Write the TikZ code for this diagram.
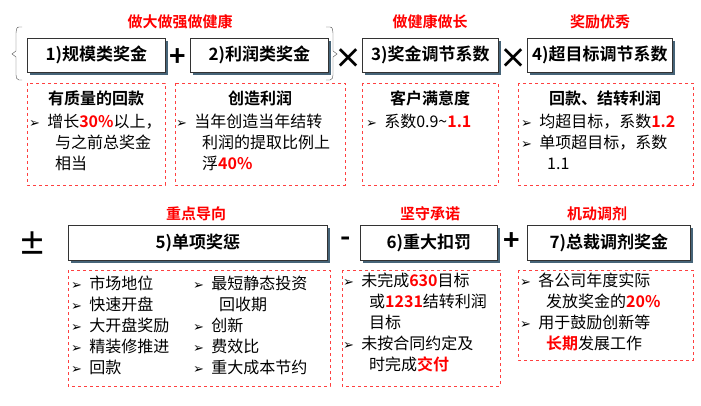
\documentclass[tikz,border=0pt]{standalone}
\usepackage{fontspec}
\setmainfont{Noto Sans CJK SC}
\newfontfamily\cjkb{Noto Sans CJK SC Bold}
\newfontfamily\djvfont{DejaVu Sans}
\definecolor{myred}{RGB}{255,0,0}
\definecolor{shad}{RGB}{70,100,120}
\begin{document}
\begin{tikzpicture}[x=1pt,y=-1pt,
 hbox/.style={draw=black!80,thick,fill=white,font=\cjkb\fontsize{17}{19}\selectfont,inner sep=0pt},
 dbox/.style={draw=red!75,dashed,thick},
 rlab/.style={text=myred,font=\cjkb\fontsize{15}{17}\selectfont},
 op/.style={font=\cjkb\fontsize{28}{28}\selectfont},
 body/.style={font=\fontsize{16}{21}\selectfont,align=left,anchor=north west,inner sep=0pt},
 bhead/.style={font=\cjkb\fontsize{16}{18}\selectfont}]
\useasboundingbox (0,0) rectangle (701,406);
\newcommand{\hb}[6]{\fill[shad] (#2+3,#3+3) rectangle (#4+3,#5+3);
 \node[hbox,minimum width=#4-#2,minimum height=#5-#3,anchor=north west] (#1) at (#2,#3) {#6};}
\newcommand{\R}[1]{\textcolor{myred}{\cjkb #1}}
\newcommand{\ar}{{\djvfont\fontsize{13}{13}\selectfont ➢}}
\newcommand{\ind}{\hspace{26pt}}
% top row
\node[rlab] (l1) at (180,22) {做大做强做健康};
\node[rlab] (l2) at (430,22) {做健康做长};
\node[rlab] (l3) at (600,22) {奖励优秀};
\draw[black!70] (22,27) -- (19,27) to[out=180,in=90] (16,33) -- (16,51) -- (12,54) -- (16,57) -- (16,75) to[out=-90,in=180] (19,80) -- (22,80);
\draw[black!70] (326,27) -- (330,27) to[out=0,in=90] (333,33) -- (333,51) -- (337,54) -- (333,57) -- (333,75) to[out=-90,in=0] (330,80) -- (326,80);
\hb{b1}{27}{38}{165}{72}{1)规模类奖金}
\hb{b2}{190}{38}{328}{72}{2)利润类奖金}
\hb{b3}{362}{38}{498}{72}{3)奖金调节系数}
\hb{b4}{527}{38}{672}{72}{4)超目标调节系数}
\node[op] (o1) at (178,58) {+};
\node[op] (o2) at (348,59) {×};
\node[op] (o3) at (513,59) {×};
\draw[dbox] (27,83) rectangle (165,185);
\draw[dbox] (175,83) rectangle (345,185);
\draw[dbox] (362,83) rectangle (498,185);
\draw[dbox] (518,83) rectangle (693,185);
\node[bhead] (h1) at (96,98) {有质量的回款};
\node[bhead] (h2) at (260,98) {创造利润};
\node[bhead] (h3) at (430,98) {客户满意度};
\node[bhead] (h4) at (605,98) {回款、结转利润};
\node[body] (t1) at (29,114) {\ar\ \ 增长\R{30\%}以上，\\ \ind 与之前总奖金\\ \ind 相当};
\node[body] (t2) at (176,114) {\ar\ \ 当年创造当年结转\\ \ind 利润的提取比例上\\ \ind 浮\R{40\%}};
\node[body] (t3) at (366,114) {\ar\ \ 系数0.9\textasciitilde\R{1.1}};
\node[body] (t4) at (521,114) {\ar\ \ 均超目标，系数\R{1.2}\\ \ar\ \ 单项超目标，系数\\ \ind 1.1};
% bottom row
\node[rlab] (l5) at (196,214) {重点导向};
\node[rlab] (l6) at (430,214) {坚守承诺};
\node[rlab] (l7) at (597,214) {机动调剂};
\node[op] (o4) at (32,243) {±};
\node[op] (o5) at (346,242) {-};
\node[op] (o6) at (512,242) {+};
\hb{b5}{68}{225}{327}{260}{5)单项奖惩}
\hb{b6}{360}{225}{497}{260}{6)重大扣罚}
\hb{b7}{527}{225}{690}{260}{7)总裁调剂奖金}
\draw[dbox] (68,270) rectangle (330,386);
\draw[dbox] (342,270) rectangle (500,386);
\draw[dbox] (518,270) rectangle (693,360);
\node[body] (t5) at (71,276) {\ar\ \ 市场地位\\ \ar\ \ 快速开盘\\ \ar\ \ 大开盘奖励\\ \ar\ \ 精装修推进\\ \ar\ \ 回款};
\node[body] (t5b) at (193,276) {\ar\ \ 最短静态投资\\ \ind 回收期\\ \ar\ \ 创新\\ \ar\ \ 费效比\\ \ar\ \ 重大成本节约};
\node[body] (t6) at (343,273) {\ar\ \ 未完成\R{630}目标\\ \ind 或\R{1231}结转利润\\ \ind 目标\\ \ar\ \ 未按合同约定及\\ \ind 时完成\R{交付}};
\node[body] (t7) at (520,273) {\ar\ \ 各公司年度实际\\ \ind 发放奖金的\R{20\%}\\ \ar\ \ 用于鼓励创新等\\ \ind \R{长期}发展工作};
\end{tikzpicture}
\end{document}
